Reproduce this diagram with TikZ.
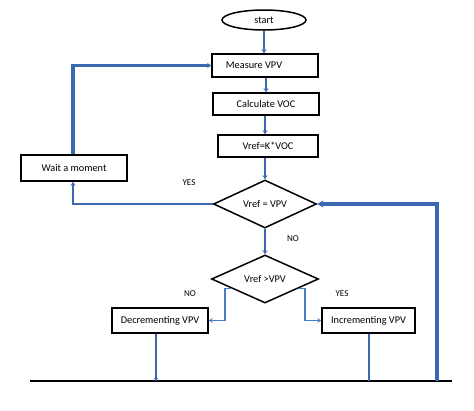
\documentclass[tikz,border=0pt]{standalone}
\usepackage{fontspec}
\setmainfont{Carlito}
\usetikzlibrary{shapes.geometric,arrows.meta,calc}
\definecolor{flowblue}{HTML}{3C68B1}
\definecolor{lightblue}{HTML}{4A7BC8}
\begin{document}
\begin{tikzpicture}[x=1pt,y=-1pt,
  every node/.style={font=\fontsize{10.3}{12}\selectfont},
  procbox/.style={draw=black,line width=1.5pt,rectangle,inner sep=0pt},
  decbox/.style={draw=black,line width=1.5pt,diamond,inner sep=0pt},
  lbl/.style={font=\fontsize{9}{10}\selectfont},
  conn/.style={draw=flowblue,line width=2.6pt,-{Stealth[length=4pt,width=5pt]}},
  thickconn/.style={draw=flowblue,line width=3.3pt,-{Stealth[length=6pt,width=7pt]}},
  thinconn/.style={draw=lightblue,line width=1.6pt,-{Stealth[length=4pt,width=4.5pt]}}]
\useasboundingbox (0,0) rectangle (474,410);
\node[draw=black,line width=1.5pt,ellipse,minimum width=84pt,minimum height=20pt,inner sep=0pt] (start) at (264,20) {start};
\node[procbox,minimum width=106pt,minimum height=23pt] (measure) at (265,65.5) {\hspace*{-22pt}Measure VPV};
\node[procbox,minimum width=106pt,minimum height=22pt] (calc) at (266,104) {Calculate VOC};
\node[procbox,minimum width=100pt,minimum height=22pt] (vref) at (268,146) {Vref=K*VOC};
\node[procbox,minimum width=106pt,minimum height=26pt] (wait) at (74,168) {Wait a moment};
\node[decbox,minimum width=103pt,minimum height=48pt,aspect=2.1] (d1) at (265,204) {};
\node at (265,204) {Vref = VPV};
\node[decbox,minimum width=107pt,minimum height=48pt,aspect=2.2] (d2) at (265,279) {};
\node at (265,279) {Vref >VPV};
\node[procbox,minimum width=96pt,minimum height=25pt] (dec) at (160,320.5) {Decrementing VPV};
\node[procbox,minimum width=93pt,minimum height=25pt] (inc) at (368.5,320.5) {Incrementing VPV};
\node[lbl] (yes1) at (189,183) {YES};
\node[lbl] (no1) at (293,239) {NO};
\node[lbl] (no2) at (190,294) {NO};
\node[lbl] (yes2) at (342,294) {YES};
% bottom bar
\coordinate (barL) at (30,381);
\coordinate (barR) at (452,381);
\draw[black,line width=2.6pt] (barL) -- (barR);
% main column
\draw[conn] (start.south) -- (start.south |- measure.north);
\draw[conn] (measure.south -| calc.north) -- (calc.north);
\draw[conn] (calc.south -| 265,0) -- (265,0 |- vref.north);
\draw[conn] (vref.south -| 265,0) -- (d1.north);
\draw[conn] (d1.south) -- (d2.north);
% yes branch to wait
\draw[conn] (d1.west) -| (wait.south -| 73,0);
\draw[thickconn,-{Stealth[length=4pt,width=5pt]}] (wait.north -| 73,0) |- (measure.west);
% right loop
\coordinate (loopB) at (437,381);
\draw[thickconn] (loopB) |- (d1.east);
% second decision
\coordinate (d2l) at (232,288.5);
\coordinate (d2r) at (299,288.5);
\draw[thinconn] (d2l) -- (225,288.5) |- (dec.east);
\draw[thinconn] (d2r) -- (305,288.5) |- (inc.west);
\draw[conn,-{Stealth[length=3pt,width=4pt]}] (dec.south -| 156,0) -- (156,0 |- barL);
\draw[conn,-] (inc.south -| 369,0) -- (369,0 |- barL);
\end{tikzpicture}
\end{document}
